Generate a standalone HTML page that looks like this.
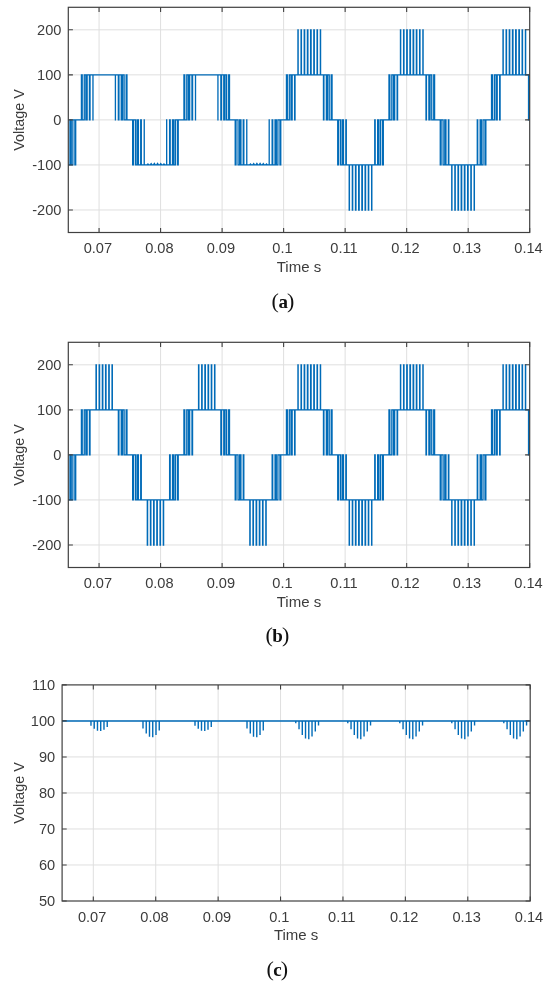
<!DOCTYPE html>
<html><head><meta charset="utf-8"><title>Figure</title>
<style>
html,body{margin:0;padding:0;background:#fff}
body{width:550px;height:989px;position:relative;overflow:hidden}
.cap{position:absolute;width:60px;height:40px;line-height:40px;text-align:center;font-family:"Liberation Serif",serif;font-size:19px;color:#111;white-space:nowrap}
.cap b{font-weight:bold}
.cap .p{font-size:22px;font-weight:normal}
.cap .p1{margin-right:-0.5px;margin-left:0.5px}.cap .p2{margin-left:-0.9px}
</style></head><body>
<svg width="550" height="989" viewBox="0 0 550 989" style="position:absolute;left:0;top:0;font-family:'Liberation Sans',sans-serif">
<rect width="550" height="989" fill="#fff"/>
<path d="M99.06 7.30 V232.50M160.58 7.30 V232.50M222.10 7.30 V232.50M283.62 7.30 V232.50M345.14 7.30 V232.50M406.66 7.30 V232.50M468.18 7.30 V232.50M68.30 209.98 H529.70M68.30 164.94 H529.70M68.30 119.90 H529.70M68.30 74.86 H529.70M68.30 29.82 H529.70" stroke="#dfdfdf" stroke-width="1" fill="none"/>
<path d="M68.30 164.94L69.97 164.94L69.97 119.90L71.26 119.90L71.26 164.94L72.85 164.94L72.85 119.90L74.89 119.90L74.89 164.94L75.70 164.94L75.70 119.90L81.40 119.90L81.40 74.86L82.21 74.86L82.21 119.90L84.26 119.90L84.26 74.86L85.85 74.86L85.85 119.90L87.14 119.90L87.14 74.86L89.43 74.86L89.43 119.90L90.04 119.90L90.04 74.86L92.95 74.86L92.95 119.90L92.99 119.90L92.99 74.86L115.39 74.86L115.39 119.90L115.42 119.90L115.42 74.86L118.33 74.86L118.33 119.90L118.94 119.90L118.94 74.86L121.24 74.86L121.24 119.90L122.52 119.90L122.52 74.86L124.11 74.86L124.11 119.90L126.16 119.90L126.16 74.86L126.97 74.86L126.97 119.90L132.67 119.90L132.67 164.94L133.48 164.94L133.48 119.90L135.53 119.90L135.53 164.94L137.12 164.94L137.12 119.90L138.40 119.90L138.40 164.94L140.70 164.94L140.70 119.90L141.31 119.90L141.31 164.94L144.22 164.94L144.22 119.90L144.25 119.90L144.25 164.94L166.65 164.94L166.65 119.90L166.69 119.90L166.69 164.94L169.60 164.94L169.60 119.90L170.21 119.90L170.21 164.94L172.50 164.94L172.50 119.90L173.79 119.90L173.79 164.94L175.38 164.94L175.38 119.90L177.43 119.90L177.43 164.94L178.24 164.94L178.24 119.90L183.94 119.90L183.94 74.86L184.75 74.86L184.75 119.90L186.79 119.90L186.79 74.86L188.38 74.86L188.38 119.90L189.67 119.90L189.67 74.86L191.97 74.86L191.97 119.90L192.58 119.90L192.58 74.86L195.49 74.86L195.49 119.90L195.52 119.90L195.52 74.86L217.92 74.86L217.92 119.90L217.95 119.90L217.95 74.86L220.86 74.86L220.86 119.90L221.47 119.90L221.47 74.86L223.77 74.86L223.77 119.90L225.06 119.90L225.06 74.86L226.65 74.86L226.65 119.90L228.69 119.90L228.69 74.86L229.50 74.86L229.50 119.90L235.20 119.90L235.20 164.94L236.01 164.94L236.01 119.90L238.06 119.90L238.06 164.94L239.65 164.94L239.65 119.90L240.94 119.90L240.94 164.94L243.23 164.94L243.23 119.90L243.84 119.90L243.84 164.94L246.75 164.94L246.75 119.90L246.79 119.90L246.79 164.94L269.19 164.94L269.19 119.90L269.22 119.90L269.22 164.94L272.13 164.94L272.13 119.90L272.74 119.90L272.74 164.94L275.04 164.94L275.04 119.90L276.32 119.90L276.32 164.94L277.91 164.94L277.91 119.90L279.96 119.90L279.96 164.94L280.77 164.94L280.77 119.90L286.45 119.90L286.45 74.86L287.31 74.86L287.31 119.90L289.29 119.90L289.29 74.86L290.98 74.86L290.98 119.90L292.15 119.90L292.15 74.86L294.59 74.86L294.59 119.90L295.03 119.90L295.03 74.86L297.94 74.86L297.94 29.82L298.15 29.82L298.15 74.86L301.07 74.86L301.07 29.82L301.42 29.82L301.42 74.86L304.23 74.86L304.23 29.82L304.67 29.82L304.67 74.86L307.40 74.86L307.40 29.82L307.90 29.82L307.90 74.86L310.60 74.86L310.60 29.82L311.10 29.82L311.10 74.86L313.83 74.86L313.83 29.82L314.28 29.82L314.28 74.86L317.08 74.86L317.08 29.82L317.44 29.82L317.44 74.86L320.36 74.86L320.36 29.82L320.57 29.82L320.57 74.86L323.47 74.86L323.47 119.90L323.92 119.90L323.92 74.86L326.36 74.86L326.36 119.90L327.53 119.90L327.53 74.86L329.22 74.86L329.22 119.90L331.19 119.90L331.19 74.86L332.06 74.86L332.06 119.90L337.72 119.90L337.72 164.94L338.58 164.94L338.58 119.90L340.55 119.90L340.55 164.94L342.24 164.94L342.24 119.90L343.41 119.90L343.41 164.94L345.86 164.94L345.86 119.90L346.30 119.90L346.30 164.94L349.20 164.94L349.20 209.98L349.41 209.98L349.41 164.94L352.34 164.94L352.34 209.98L352.69 209.98L352.69 164.94L355.49 164.94L355.49 209.98L355.94 209.98L355.94 164.94L358.67 164.94L358.67 209.98L359.17 209.98L359.17 164.94L361.87 164.94L361.87 209.98L362.37 209.98L362.37 164.94L365.10 164.94L365.10 209.98L365.55 209.98L365.55 164.94L368.35 164.94L368.35 209.98L368.70 209.98L368.70 164.94L371.63 164.94L371.63 209.98L371.84 209.98L371.84 164.94L374.74 164.94L374.74 119.90L375.18 119.90L375.18 164.94L377.63 164.94L377.63 119.90L378.80 119.90L378.80 164.94L380.49 164.94L380.49 119.90L382.46 119.90L382.46 164.94L383.32 164.94L383.32 119.90L388.98 119.90L388.98 74.86L389.85 74.86L389.85 119.90L391.82 119.90L391.82 74.86L393.51 74.86L393.51 119.90L394.68 119.90L394.68 74.86L397.12 74.86L397.12 119.90L397.57 119.90L397.57 74.86L400.47 74.86L400.47 29.82L400.68 29.82L400.68 74.86L403.60 74.86L403.60 29.82L403.96 29.82L403.96 74.86L406.76 74.86L406.76 29.82L407.21 29.82L407.21 74.86L409.94 74.86L409.94 29.82L410.44 29.82L410.44 74.86L413.14 74.86L413.14 29.82L413.64 29.82L413.64 74.86L416.37 74.86L416.37 29.82L416.81 29.82L416.81 74.86L419.62 74.86L419.62 29.82L419.97 29.82L419.97 74.86L422.89 74.86L422.89 29.82L423.10 29.82L423.10 74.86L426.01 74.86L426.01 119.90L426.45 119.90L426.45 74.86L428.89 74.86L428.89 119.90L430.06 119.90L430.06 74.86L431.75 74.86L431.75 119.90L433.73 119.90L433.73 74.86L434.59 74.86L434.59 119.90L440.25 119.90L440.25 164.94L441.11 164.94L441.11 119.90L443.09 119.90L443.09 164.94L444.78 164.94L444.78 119.90L445.95 119.90L445.95 164.94L448.39 164.94L448.39 119.90L448.83 119.90L448.83 164.94L451.74 164.94L451.74 209.98L451.95 209.98L451.95 164.94L454.87 164.94L454.87 209.98L455.22 209.98L455.22 164.94L458.03 164.94L458.03 209.98L458.47 209.98L458.47 164.94L461.20 164.94L461.20 209.98L461.70 209.98L461.70 164.94L464.40 164.94L464.40 209.98L464.90 209.98L464.90 164.94L467.63 164.94L467.63 209.98L468.08 209.98L468.08 164.94L470.88 164.94L470.88 209.98L471.24 209.98L471.24 164.94L474.16 164.94L474.16 209.98L474.37 209.98L474.37 164.94L477.27 164.94L477.27 119.90L477.72 119.90L477.72 164.94L480.16 164.94L480.16 119.90L481.33 119.90L481.33 164.94L483.02 164.94L483.02 119.90L484.99 119.90L484.99 164.94L485.86 164.94L485.86 119.90L491.52 119.90L491.52 74.86L492.38 74.86L492.38 119.90L494.35 119.90L494.35 74.86L496.04 74.86L496.04 119.90L497.21 119.90L497.21 74.86L499.66 74.86L499.66 119.90L500.10 119.90L500.10 74.86L503.00 74.86L503.00 29.82L503.21 29.82L503.21 74.86L506.14 74.86L506.14 29.82L506.49 29.82L506.49 74.86L509.29 74.86L509.29 29.82L509.74 29.82L509.74 74.86L512.47 74.86L512.47 29.82L512.97 29.82L512.97 74.86L515.67 74.86L515.67 29.82L516.17 29.82L516.17 74.86L518.90 74.86L518.90 29.82L519.35 29.82L519.35 74.86L522.15 74.86L522.15 29.82L522.50 29.82L522.50 74.86L525.43 74.86L525.43 29.82L525.64 29.82L525.64 74.86L528.54 74.86L528.54 119.90L528.98 119.90L528.98 74.86L529.70 74.86M147.04 164.94L147.94 163.88L148.84 164.94M150.25 164.94L151.15 163.66L152.05 164.94M153.45 164.94L154.35 163.43L155.25 164.94M156.66 164.94L157.56 163.43L158.46 164.94M159.86 164.94L160.76 163.66L161.66 164.94M163.06 164.94L163.96 163.88L164.86 164.94M249.58 164.94L250.48 163.88L251.38 164.94M252.78 164.94L253.68 163.66L254.58 164.94M255.98 164.94L256.88 163.43L257.78 164.94M259.19 164.94L260.09 163.43L260.99 164.94M262.39 164.94L263.29 163.66L264.19 164.94M265.60 164.94L266.50 163.88L267.40 164.94" stroke="#006bb8" stroke-width="1.30" fill="none" stroke-linejoin="miter"/>
<rect x="68.30" y="7.30" width="461.40" height="225.20" fill="none" stroke="#404040" stroke-width="1.2"/>
<path d="M99.06 232.50 v-4.60M99.06 7.30 v4.60M160.58 232.50 v-4.60M160.58 7.30 v4.60M222.10 232.50 v-4.60M222.10 7.30 v4.60M283.62 232.50 v-4.60M283.62 7.30 v4.60M345.14 232.50 v-4.60M345.14 7.30 v4.60M406.66 232.50 v-4.60M406.66 7.30 v4.60M468.18 232.50 v-4.60M468.18 7.30 v4.60M529.70 232.50 v-4.60M529.70 7.30 v4.60M68.30 209.98 h4.60M529.70 209.98 h-4.60M68.30 164.94 h4.60M529.70 164.94 h-4.60M68.30 119.90 h4.60M529.70 119.90 h-4.60M68.30 74.86 h4.60M529.70 74.86 h-4.60M68.30 29.82 h4.60M529.70 29.82 h-4.60" stroke="#404040" stroke-width="1.1" fill="none"/>
<text x="97.86" y="253.10" font-size="14.6" fill="#3c3c3c" text-anchor="middle">0.07</text>
<text x="159.38" y="253.10" font-size="14.6" fill="#3c3c3c" text-anchor="middle">0.08</text>
<text x="220.90" y="253.10" font-size="14.6" fill="#3c3c3c" text-anchor="middle">0.09</text>
<text x="282.42" y="253.10" font-size="14.6" fill="#3c3c3c" text-anchor="middle">0.1</text>
<text x="343.94" y="253.10" font-size="14.6" fill="#3c3c3c" text-anchor="middle">0.11</text>
<text x="405.46" y="253.10" font-size="14.6" fill="#3c3c3c" text-anchor="middle">0.12</text>
<text x="466.98" y="253.10" font-size="14.6" fill="#3c3c3c" text-anchor="middle">0.13</text>
<text x="528.50" y="253.10" font-size="14.6" fill="#3c3c3c" text-anchor="middle">0.14</text>
<text x="61.40" y="215.33" font-size="14.6" fill="#3c3c3c" text-anchor="end">-200</text>
<text x="61.40" y="170.29" font-size="14.6" fill="#3c3c3c" text-anchor="end">-100</text>
<text x="61.40" y="125.25" font-size="14.6" fill="#3c3c3c" text-anchor="end">0</text>
<text x="61.40" y="80.21" font-size="14.6" fill="#3c3c3c" text-anchor="end">100</text>
<text x="61.40" y="35.17" font-size="14.6" fill="#3c3c3c" text-anchor="end">200</text>
<text x="299.00" y="271.60" font-size="15.0" fill="#3c3c3c" text-anchor="middle">Time s</text>
<text transform="translate(23.80 119.90) rotate(-90)" font-size="14.4" fill="#3c3c3c" text-anchor="middle">Voltage V</text>
<path d="M99.06 342.30 V567.50M160.58 342.30 V567.50M222.10 342.30 V567.50M283.62 342.30 V567.50M345.14 342.30 V567.50M406.66 342.30 V567.50M468.18 342.30 V567.50M68.30 544.98 H529.70M68.30 499.94 H529.70M68.30 454.90 H529.70M68.30 409.86 H529.70M68.30 364.82 H529.70" stroke="#dfdfdf" stroke-width="1" fill="none"/>
<path d="M68.30 499.94L69.98 499.94L69.98 454.90L71.24 454.90L71.24 499.94L72.86 499.94L72.86 454.90L74.88 454.90L74.88 499.94L75.71 499.94L75.71 454.90L81.40 454.90L81.40 409.86L82.22 409.86L82.22 454.90L84.25 454.90L84.25 409.86L85.86 409.86L85.86 454.90L87.12 454.90L87.12 409.86L89.46 409.86L89.46 454.90L90.02 454.90L90.02 409.86L96.03 409.86L96.03 364.82L96.33 364.82L96.33 409.86L99.19 409.86L99.19 364.82L99.58 364.82L99.58 409.86L102.36 409.86L102.36 364.82L102.81 364.82L102.81 409.86L105.57 409.86L105.57 364.82L106.01 364.82L106.01 409.86L108.79 409.86L108.79 364.82L109.19 364.82L109.19 409.86L112.04 409.86L112.04 364.82L112.34 364.82L112.34 409.86L118.35 409.86L118.35 454.90L118.92 454.90L118.92 409.86L121.25 409.86L121.25 454.90L122.51 454.90L122.51 409.86L124.12 409.86L124.12 454.90L126.15 454.90L126.15 409.86L126.98 409.86L126.98 454.90L132.66 454.90L132.66 499.94L133.49 499.94L133.49 454.90L135.52 454.90L135.52 499.94L137.13 499.94L137.13 454.90L138.39 454.90L138.39 499.94L140.72 499.94L140.72 454.90L141.29 454.90L141.29 499.94L147.30 499.94L147.30 544.98L147.60 544.98L147.60 499.94L150.45 499.94L150.45 544.98L150.85 544.98L150.85 499.94L153.63 499.94L153.63 544.98L154.07 544.98L154.07 499.94L156.83 499.94L156.83 544.98L157.28 544.98L157.28 499.94L160.06 499.94L160.06 544.98L160.45 544.98L160.45 499.94L163.31 499.94L163.31 544.98L163.61 544.98L163.61 499.94L169.62 499.94L169.62 454.90L170.18 454.90L170.18 499.94L172.52 499.94L172.52 454.90L173.78 454.90L173.78 499.94L175.39 499.94L175.39 454.90L177.42 454.90L177.42 499.94L178.24 499.94L178.24 454.90L183.93 454.90L183.93 409.86L184.76 409.86L184.76 454.90L186.78 454.90L186.78 409.86L188.40 409.86L188.40 454.90L189.66 454.90L189.66 409.86L191.99 409.86L191.99 454.90L192.56 454.90L192.56 409.86L198.56 409.86L198.56 364.82L198.86 364.82L198.86 409.86L201.72 409.86L201.72 364.82L202.11 364.82L202.11 409.86L204.90 409.86L204.90 364.82L205.34 364.82L205.34 409.86L208.10 409.86L208.10 364.82L208.54 364.82L208.54 409.86L211.33 409.86L211.33 364.82L211.72 364.82L211.72 409.86L214.58 409.86L214.58 364.82L214.88 364.82L214.88 409.86L220.88 409.86L220.88 454.90L221.45 454.90L221.45 409.86L223.78 409.86L223.78 454.90L225.04 454.90L225.04 409.86L226.66 409.86L226.66 454.90L228.68 454.90L228.68 409.86L229.51 409.86L229.51 454.90L235.20 454.90L235.20 499.94L236.02 499.94L236.02 454.90L238.05 454.90L238.05 499.94L239.66 499.94L239.66 454.90L240.92 454.90L240.92 499.94L243.26 499.94L243.26 454.90L243.82 454.90L243.82 499.94L249.83 499.94L249.83 544.98L250.13 544.98L250.13 499.94L252.99 499.94L252.99 544.98L253.38 544.98L253.38 499.94L256.16 499.94L256.16 544.98L256.61 544.98L256.61 499.94L259.37 499.94L259.37 544.98L259.81 544.98L259.81 499.94L262.59 499.94L262.59 544.98L262.99 544.98L262.99 499.94L265.84 499.94L265.84 544.98L266.14 544.98L266.14 499.94L272.15 499.94L272.15 454.90L272.72 454.90L272.72 499.94L275.05 499.94L275.05 454.90L276.31 454.90L276.31 499.94L277.92 499.94L277.92 454.90L279.95 454.90L279.95 499.94L280.78 499.94L280.78 454.90L286.45 454.90L286.45 409.86L287.31 409.86L287.31 454.90L289.29 454.90L289.29 409.86L290.98 409.86L290.98 454.90L292.15 454.90L292.15 409.86L294.59 409.86L294.59 454.90L295.03 454.90L295.03 409.86L297.94 409.86L297.94 364.82L298.15 364.82L298.15 409.86L301.07 409.86L301.07 364.82L301.42 364.82L301.42 409.86L304.23 409.86L304.23 364.82L304.67 364.82L304.67 409.86L307.40 409.86L307.40 364.82L307.90 364.82L307.90 409.86L310.60 409.86L310.60 364.82L311.10 364.82L311.10 409.86L313.83 409.86L313.83 364.82L314.28 364.82L314.28 409.86L317.08 409.86L317.08 364.82L317.44 364.82L317.44 409.86L320.36 409.86L320.36 364.82L320.57 364.82L320.57 409.86L323.47 409.86L323.47 454.90L323.92 454.90L323.92 409.86L326.36 409.86L326.36 454.90L327.53 454.90L327.53 409.86L329.22 409.86L329.22 454.90L331.19 454.90L331.19 409.86L332.06 409.86L332.06 454.90L337.72 454.90L337.72 499.94L338.58 499.94L338.58 454.90L340.55 454.90L340.55 499.94L342.24 499.94L342.24 454.90L343.41 454.90L343.41 499.94L345.86 499.94L345.86 454.90L346.30 454.90L346.30 499.94L349.20 499.94L349.20 544.98L349.41 544.98L349.41 499.94L352.34 499.94L352.34 544.98L352.69 544.98L352.69 499.94L355.49 499.94L355.49 544.98L355.94 544.98L355.94 499.94L358.67 499.94L358.67 544.98L359.17 544.98L359.17 499.94L361.87 499.94L361.87 544.98L362.37 544.98L362.37 499.94L365.10 499.94L365.10 544.98L365.55 544.98L365.55 499.94L368.35 499.94L368.35 544.98L368.70 544.98L368.70 499.94L371.63 499.94L371.63 544.98L371.84 544.98L371.84 499.94L374.74 499.94L374.74 454.90L375.18 454.90L375.18 499.94L377.63 499.94L377.63 454.90L378.80 454.90L378.80 499.94L380.49 499.94L380.49 454.90L382.46 454.90L382.46 499.94L383.32 499.94L383.32 454.90L388.98 454.90L388.98 409.86L389.85 409.86L389.85 454.90L391.82 454.90L391.82 409.86L393.51 409.86L393.51 454.90L394.68 454.90L394.68 409.86L397.12 409.86L397.12 454.90L397.57 454.90L397.57 409.86L400.47 409.86L400.47 364.82L400.68 364.82L400.68 409.86L403.60 409.86L403.60 364.82L403.96 364.82L403.96 409.86L406.76 409.86L406.76 364.82L407.21 364.82L407.21 409.86L409.94 409.86L409.94 364.82L410.44 364.82L410.44 409.86L413.14 409.86L413.14 364.82L413.64 364.82L413.64 409.86L416.37 409.86L416.37 364.82L416.81 364.82L416.81 409.86L419.62 409.86L419.62 364.82L419.97 364.82L419.97 409.86L422.89 409.86L422.89 364.82L423.10 364.82L423.10 409.86L426.01 409.86L426.01 454.90L426.45 454.90L426.45 409.86L428.89 409.86L428.89 454.90L430.06 454.90L430.06 409.86L431.75 409.86L431.75 454.90L433.73 454.90L433.73 409.86L434.59 409.86L434.59 454.90L440.25 454.90L440.25 499.94L441.11 499.94L441.11 454.90L443.09 454.90L443.09 499.94L444.78 499.94L444.78 454.90L445.95 454.90L445.95 499.94L448.39 499.94L448.39 454.90L448.83 454.90L448.83 499.94L451.74 499.94L451.74 544.98L451.95 544.98L451.95 499.94L454.87 499.94L454.87 544.98L455.22 544.98L455.22 499.94L458.03 499.94L458.03 544.98L458.47 544.98L458.47 499.94L461.20 499.94L461.20 544.98L461.70 544.98L461.70 499.94L464.40 499.94L464.40 544.98L464.90 544.98L464.90 499.94L467.63 499.94L467.63 544.98L468.08 544.98L468.08 499.94L470.88 499.94L470.88 544.98L471.24 544.98L471.24 499.94L474.16 499.94L474.16 544.98L474.37 544.98L474.37 499.94L477.27 499.94L477.27 454.90L477.72 454.90L477.72 499.94L480.16 499.94L480.16 454.90L481.33 454.90L481.33 499.94L483.02 499.94L483.02 454.90L484.99 454.90L484.99 499.94L485.86 499.94L485.86 454.90L491.52 454.90L491.52 409.86L492.38 409.86L492.38 454.90L494.35 454.90L494.35 409.86L496.04 409.86L496.04 454.90L497.21 454.90L497.21 409.86L499.66 409.86L499.66 454.90L500.10 454.90L500.10 409.86L503.00 409.86L503.00 364.82L503.21 364.82L503.21 409.86L506.14 409.86L506.14 364.82L506.49 364.82L506.49 409.86L509.29 409.86L509.29 364.82L509.74 364.82L509.74 409.86L512.47 409.86L512.47 364.82L512.97 364.82L512.97 409.86L515.67 409.86L515.67 364.82L516.17 364.82L516.17 409.86L518.90 409.86L518.90 364.82L519.35 364.82L519.35 409.86L522.15 409.86L522.15 364.82L522.50 364.82L522.50 409.86L525.43 409.86L525.43 364.82L525.64 364.82L525.64 409.86L528.54 409.86L528.54 454.90L528.98 454.90L528.98 409.86L529.70 409.86" stroke="#006bb8" stroke-width="1.30" fill="none" stroke-linejoin="miter"/>
<rect x="68.30" y="342.30" width="461.40" height="225.20" fill="none" stroke="#404040" stroke-width="1.2"/>
<path d="M99.06 567.50 v-4.60M99.06 342.30 v4.60M160.58 567.50 v-4.60M160.58 342.30 v4.60M222.10 567.50 v-4.60M222.10 342.30 v4.60M283.62 567.50 v-4.60M283.62 342.30 v4.60M345.14 567.50 v-4.60M345.14 342.30 v4.60M406.66 567.50 v-4.60M406.66 342.30 v4.60M468.18 567.50 v-4.60M468.18 342.30 v4.60M529.70 567.50 v-4.60M529.70 342.30 v4.60M68.30 544.98 h4.60M529.70 544.98 h-4.60M68.30 499.94 h4.60M529.70 499.94 h-4.60M68.30 454.90 h4.60M529.70 454.90 h-4.60M68.30 409.86 h4.60M529.70 409.86 h-4.60M68.30 364.82 h4.60M529.70 364.82 h-4.60" stroke="#404040" stroke-width="1.1" fill="none"/>
<text x="97.86" y="588.10" font-size="14.6" fill="#3c3c3c" text-anchor="middle">0.07</text>
<text x="159.38" y="588.10" font-size="14.6" fill="#3c3c3c" text-anchor="middle">0.08</text>
<text x="220.90" y="588.10" font-size="14.6" fill="#3c3c3c" text-anchor="middle">0.09</text>
<text x="282.42" y="588.10" font-size="14.6" fill="#3c3c3c" text-anchor="middle">0.1</text>
<text x="343.94" y="588.10" font-size="14.6" fill="#3c3c3c" text-anchor="middle">0.11</text>
<text x="405.46" y="588.10" font-size="14.6" fill="#3c3c3c" text-anchor="middle">0.12</text>
<text x="466.98" y="588.10" font-size="14.6" fill="#3c3c3c" text-anchor="middle">0.13</text>
<text x="528.50" y="588.10" font-size="14.6" fill="#3c3c3c" text-anchor="middle">0.14</text>
<text x="61.40" y="550.33" font-size="14.6" fill="#3c3c3c" text-anchor="end">-200</text>
<text x="61.40" y="505.29" font-size="14.6" fill="#3c3c3c" text-anchor="end">-100</text>
<text x="61.40" y="460.25" font-size="14.6" fill="#3c3c3c" text-anchor="end">0</text>
<text x="61.40" y="415.21" font-size="14.6" fill="#3c3c3c" text-anchor="end">100</text>
<text x="61.40" y="370.17" font-size="14.6" fill="#3c3c3c" text-anchor="end">200</text>
<text x="299.00" y="606.60" font-size="15.0" fill="#3c3c3c" text-anchor="middle">Time s</text>
<text transform="translate(23.80 454.90) rotate(-90)" font-size="14.4" fill="#3c3c3c" text-anchor="middle">Voltage V</text>
<path d="M93.31 684.90 V901.00M155.72 684.90 V901.00M218.13 684.90 V901.00M280.55 684.90 V901.00M342.96 684.90 V901.00M405.37 684.90 V901.00M467.79 684.90 V901.00M62.10 864.98 H530.20M62.10 828.97 H530.20M62.10 792.95 H530.20M62.10 756.93 H530.20M62.10 720.92 H530.20" stroke="#dfdfdf" stroke-width="1" fill="none"/>
<path d="M62.10 720.92L530.20 720.92" stroke="#006bb8" stroke-width="1.50" fill="none" stroke-linejoin="miter"/>
<path d="M90.98 720.92V725.73M94.23 720.92V728.81M97.48 720.92V730.77M100.73 720.92V731.09M103.98 720.92V729.70M107.23 720.92V726.95M142.99 720.92V728.56M146.24 720.92V733.61M149.49 720.92V736.81M152.74 720.92V737.34M155.99 720.92V735.07M159.25 720.92V730.56M195.00 720.92V725.73M198.25 720.92V728.81M201.50 720.92V730.77M204.76 720.92V731.09M208.01 720.92V729.70M211.26 720.92V726.95M247.01 720.92V728.56M250.27 720.92V733.61M253.52 720.92V736.81M256.77 720.92V737.34M260.02 720.92V735.07M263.27 720.92V730.56M295.77 720.92V723.33M299.03 720.92V729.37M302.28 720.92V734.98M305.53 720.92V738.54M308.78 720.92V739.13M312.03 720.92V736.60M315.28 720.92V731.59M318.53 720.92V725.47M347.79 720.92V723.33M351.04 720.92V729.37M354.29 720.92V734.98M357.54 720.92V738.54M360.79 720.92V739.13M364.04 720.92V736.60M367.29 720.92V731.59M370.54 720.92V725.47M399.80 720.92V723.33M403.05 720.92V729.37M406.30 720.92V734.98M409.55 720.92V738.54M412.80 720.92V739.13M416.05 720.92V736.60M419.30 720.92V731.59M422.55 720.92V725.47M451.81 720.92V723.33M455.06 720.92V729.37M458.31 720.92V734.98M461.56 720.92V738.54M464.81 720.92V739.13M468.06 720.92V736.60M471.31 720.92V731.59M474.56 720.92V725.47M503.82 720.92V723.33M507.07 720.92V729.37M510.32 720.92V734.98M513.57 720.92V738.54M516.82 720.92V739.13M520.07 720.92V736.60M523.32 720.92V731.59M526.57 720.92V725.47" stroke="#006bb8" stroke-width="1.4" fill="none" stroke-linecap="butt"/>
<rect x="62.10" y="684.90" width="468.10" height="216.10" fill="none" stroke="#404040" stroke-width="1.2"/>
<path d="M93.31 901.00 v-4.60M93.31 684.90 v4.60M155.72 901.00 v-4.60M155.72 684.90 v4.60M218.13 901.00 v-4.60M218.13 684.90 v4.60M280.55 901.00 v-4.60M280.55 684.90 v4.60M342.96 901.00 v-4.60M342.96 684.90 v4.60M405.37 901.00 v-4.60M405.37 684.90 v4.60M467.79 901.00 v-4.60M467.79 684.90 v4.60M530.20 901.00 v-4.60M530.20 684.90 v4.60M62.10 901.00 h4.60M530.20 901.00 h-4.60M62.10 864.98 h4.60M530.20 864.98 h-4.60M62.10 828.97 h4.60M530.20 828.97 h-4.60M62.10 792.95 h4.60M530.20 792.95 h-4.60M62.10 756.93 h4.60M530.20 756.93 h-4.60M62.10 720.92 h4.60M530.20 720.92 h-4.60M62.10 684.90 h4.60M530.20 684.90 h-4.60" stroke="#404040" stroke-width="1.1" fill="none"/>
<text x="92.11" y="922.20" font-size="14.6" fill="#3c3c3c" text-anchor="middle">0.07</text>
<text x="154.52" y="922.20" font-size="14.6" fill="#3c3c3c" text-anchor="middle">0.08</text>
<text x="216.93" y="922.20" font-size="14.6" fill="#3c3c3c" text-anchor="middle">0.09</text>
<text x="279.35" y="922.20" font-size="14.6" fill="#3c3c3c" text-anchor="middle">0.1</text>
<text x="341.76" y="922.20" font-size="14.6" fill="#3c3c3c" text-anchor="middle">0.11</text>
<text x="404.17" y="922.20" font-size="14.6" fill="#3c3c3c" text-anchor="middle">0.12</text>
<text x="466.59" y="922.20" font-size="14.6" fill="#3c3c3c" text-anchor="middle">0.13</text>
<text x="529.00" y="922.20" font-size="14.6" fill="#3c3c3c" text-anchor="middle">0.14</text>
<text x="55.20" y="906.35" font-size="14.6" fill="#3c3c3c" text-anchor="end">50</text>
<text x="55.20" y="870.33" font-size="14.6" fill="#3c3c3c" text-anchor="end">60</text>
<text x="55.20" y="834.32" font-size="14.6" fill="#3c3c3c" text-anchor="end">70</text>
<text x="55.20" y="798.30" font-size="14.6" fill="#3c3c3c" text-anchor="end">80</text>
<text x="55.20" y="762.28" font-size="14.6" fill="#3c3c3c" text-anchor="end">90</text>
<text x="55.20" y="726.27" font-size="14.6" fill="#3c3c3c" text-anchor="end">100</text>
<text x="55.20" y="690.25" font-size="14.6" fill="#3c3c3c" text-anchor="end">110</text>
<text x="296.15" y="940.40" font-size="15.0" fill="#3c3c3c" text-anchor="middle">Time s</text>
<text transform="translate(23.80 792.95) rotate(-90)" font-size="14.4" fill="#3c3c3c" text-anchor="middle">Voltage V</text>
</svg>
<div class="cap" style="left:252.7px;top:280.5px"><span class="p p1">(</span><b>a</b><span class="p p2">)</span></div>
<div class="cap" style="left:247.1px;top:615.2px"><span class="p p1">(</span><b>b</b><span class="p p2">)</span></div>
<div class="cap" style="left:247.1px;top:948.7px"><span class="p p1">(</span><b>c</b><span class="p p2">)</span></div>

</body></html>
